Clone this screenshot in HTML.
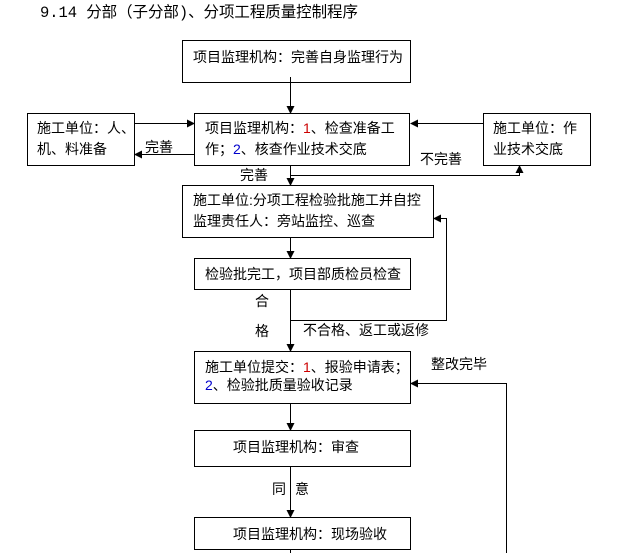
<!DOCTYPE html>
<html><head><meta charset="utf-8"><style>
body{margin:0;background:#fff;}
svg text{font-family:"Liberation Sans","Noto Sans CJK SC",sans-serif;font-size:14px;fill:#000;}
</style></head><body>
<svg width="642" height="553" viewBox="0 0 642 553" xmlns="http://www.w3.org/2000/svg">
<defs><marker id="a" markerWidth="8" markerHeight="8" refX="7" refY="4" orient="auto" markerUnits="userSpaceOnUse"><path d="M0,0 L8,4 L0,8z" fill="#000"/></marker></defs>
<text x="40" y="17" textLength="318" lengthAdjust="spacing" style="font-family:'Liberation Mono','Noto Sans CJK SC',monospace;font-size:15.5px">9.14 分部（子分部)、分项工程质量控制程序</text>
<g fill="none" stroke="#000" stroke-width="1">
<rect x="182.5" y="40.5" width="228" height="42"/>
<rect x="194.5" y="113.5" width="215" height="52"/>
<rect x="27.5" y="113.5" width="107" height="52"/>
<rect x="483.5" y="113.5" width="107" height="52"/>
<rect x="182.5" y="185.5" width="251" height="52"/>
<rect x="194.5" y="258.5" width="216" height="31"/>
<rect x="194.5" y="351.5" width="216" height="52"/>
<rect x="194.5" y="430.5" width="216" height="36"/>
<rect x="194.5" y="517.5" width="216" height="32"/>
<line x1="290.5" y1="77" x2="290.5" y2="113" marker-end="url(#a)"/>
<line x1="134" y1="123.5" x2="194" y2="123.5" marker-end="url(#a)"/>
<line x1="194" y1="154.5" x2="135" y2="154.5" marker-end="url(#a)"/>
<line x1="483" y1="123.5" x2="411" y2="123.5" marker-end="url(#a)"/>
<line x1="290.5" y1="166" x2="290.5" y2="185" marker-end="url(#a)"/>
<polyline points="290.5,175.5 519.5,175.5 519.5,166" marker-end="url(#a)"/>
<line x1="290.5" y1="238" x2="290.5" y2="258" marker-end="url(#a)"/>
<line x1="290.5" y1="290" x2="290.5" y2="351" marker-end="url(#a)"/>
<polyline points="290.5,320.5 446.5,320.5 446.5,218.5 434,218.5" marker-end="url(#a)"/>
<line x1="290.5" y1="404" x2="290.5" y2="430" marker-end="url(#a)"/>
<line x1="290.5" y1="467" x2="290.5" y2="517" marker-end="url(#a)"/>
<line x1="290.5" y1="550" x2="290.5" y2="553"/>
<polyline points="506.5,553 506.5,383.5 411,383.5" marker-end="url(#a)"/>
</g>
<text x="193" y="62">项目监理机构：完善自身监理行为</text>
<text x="205" y="133">项目监理机构：<tspan fill="#c00">1</tspan>、检查准备工</text>
<text x="205" y="154">作；<tspan fill="#00c">2</tspan>、核查作业技术交底</text>
<text x="37" y="133">施工单位：人、</text>
<text x="37" y="154">机、料准备</text>
<text x="493" y="133">施工单位：作</text>
<text x="493" y="154">业技术交底</text>
<text x="145" y="152">完善</text>
<text x="420" y="164">不完善</text>
<text x="240" y="180">完善</text>
<text x="193" y="205">施工单位:分项工程检验批施工并自控</text>
<text x="193" y="226">监理责任人：旁站监控、巡查</text>
<text x="205" y="279">检验批完工，项目部质检员检查</text>
<text x="255" y="306">合</text>
<text x="255" y="336">格</text>
<text x="303" y="335">不合格、返工或返修</text>
<text x="431" y="369">整改完毕</text>
<text x="205" y="372">施工单位提交：<tspan fill="#c00">1</tspan>、报验申请表；</text>
<text x="205" y="390"><tspan fill="#00c">2</tspan>、检验批质量验收记录</text>
<text x="233" y="452">项目监理机构：审查</text>
<text x="272" y="494">同</text>
<text x="295" y="494">意</text>
<text x="233" y="539">项目监理机构：现场验收</text>
</svg>
</body></html>
